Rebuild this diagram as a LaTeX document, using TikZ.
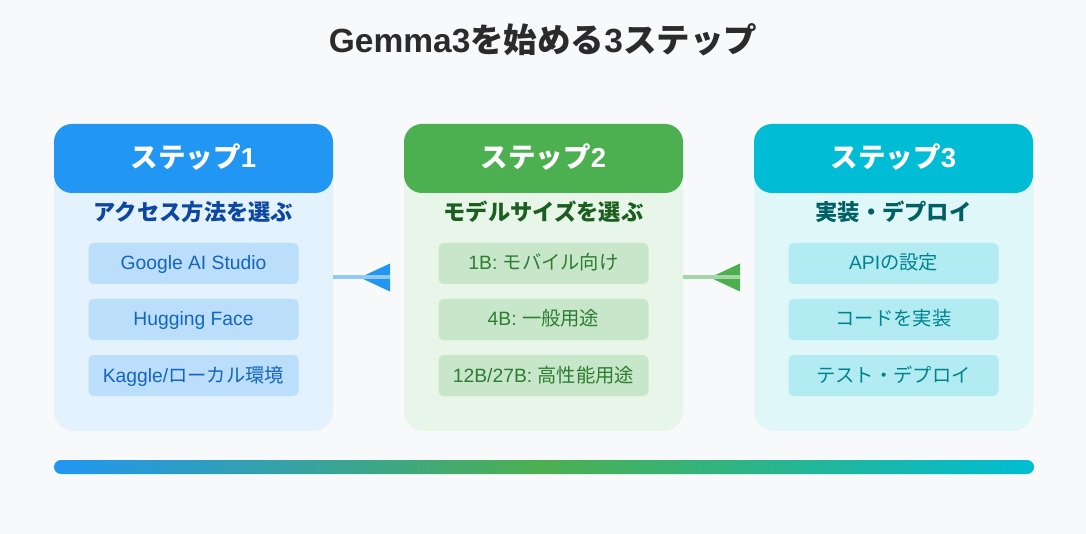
\documentclass[tikz,border=0pt]{standalone}
\usepackage{fontspec}
\setmainfont{Liberation Sans}
\newfontfamily\jpfont{Noto Sans CJK JP}
\newcommand{\J}[1]{{\jpfont #1}}
\definecolor{bgc}{HTML}{F8F9FA}
\definecolor{titlec}{HTML}{2B2B2B}
\definecolor{bAhead}{HTML}{2196F3}
\definecolor{bAbody}{HTML}{E3F2FD}
\definecolor{bAsub}{HTML}{0D47A1}
\definecolor{bAitem}{HTML}{BBDEFB}
\definecolor{bAtxt}{HTML}{1565C0}
\definecolor{bAline}{HTML}{90CAF9}
\definecolor{bBhead}{HTML}{4CAF50}
\definecolor{bBbody}{HTML}{E8F5E9}
\definecolor{bBsub}{HTML}{1B5E20}
\definecolor{bBitem}{HTML}{C8E6C9}
\definecolor{bBtxt}{HTML}{2E7D32}
\definecolor{bBline}{HTML}{A5D6A7}
\definecolor{bChead}{HTML}{00BCD4}
\definecolor{bCbody}{HTML}{E0F7FA}
\definecolor{bCsub}{HTML}{006064}
\definecolor{bCitem}{HTML}{B2EBF2}
\definecolor{bCtxt}{HTML}{00838F}
\begin{document}
\begin{tikzpicture}[x=1pt,y=-1pt,
  card/.style={draw=none, rounded corners=20pt, minimum width=279pt, minimum height=307pt, inner sep=0pt},
  headbox/.style={draw=none, rounded corners=18pt, minimum width=279pt, minimum height=69pt, inner sep=0pt,
    text=white, text height=22pt, text depth=3.6pt, font=\bfseries\fontsize{27.5}{31}\selectfont},
  subtitle/.style={inner sep=0pt, anchor=base, font=\bfseries\fontsize{22.3}{26}\selectfont},
  itembox/.style={draw=none, rounded corners=5pt, minimum width=210pt, minimum height=41pt, inner sep=0pt,
    text height=17pt, text depth=4pt, font=\fontsize{19.3}{23}\selectfont},
  arrowline/.style={line width=4pt},
]
\useasboundingbox (0,0) rectangle (1086,534);
\fill[bgc] (0,0) rectangle (1086,534);

\node[anchor=base, text=titlec, font=\bfseries\fontsize{33.5}{38}\selectfont] (title) at (543,53)
  {Gemma3\J{を始める}3\J{ステップ}};

% card 1
\node[card, fill=bAbody] (card1) at (193.5,277.5) {};
\node[headbox, fill=bAhead] (head1) at (193.5,158.5) {\J{ステップ}1};
\node[subtitle, text=bAsub] (sub1) at (193.5,220.5) {\J{アクセス方法を選ぶ}};
\node[itembox, fill=bAitem, text=bAtxt] (i11) at (193.5,263.5) {Google AI Studio};
\node[itembox, fill=bAitem, text=bAtxt] (i12) at (193.5,319.5) {Hugging Face};
\node[itembox, fill=bAitem, text=bAtxt] (i13) at (193.5,375.5) {Kaggle/\J{ローカル環境}};

% card 2
\node[card, fill=bBbody] (card2) at (543.5,277.5) {};
\node[headbox, fill=bBhead] (head2) at (543.5,158.5) {\J{ステップ}2};
\node[subtitle, text=bBsub] (sub2) at (543.5,220.5) {\J{モデルサイズを選ぶ}};
\node[itembox, fill=bBitem, text=bBtxt] (i21) at (543.5,263.5) {1B: \J{モバイル向け}};
\node[itembox, fill=bBitem, text=bBtxt] (i22) at (543.5,319.5) {4B: \J{一般用途}};
\node[itembox, fill=bBitem, text=bBtxt] (i23) at (543.5,375.5) {12B/27B: \J{高性能用途}};

% card 3
\node[card, fill=bCbody] (card3) at (893.5,277.5) {};
\node[headbox, fill=bChead] (head3) at (893.5,158.5) {\J{ステップ}3};
\node[subtitle, text=bCsub] (sub3) at (893.5,220.5) {\J{実装・デプロイ}};
\node[itembox, fill=bCitem, text=bCtxt] (i31) at (893.5,263.5) {API\J{の設定}};
\node[itembox, fill=bCitem, text=bCtxt] (i32) at (893.5,319.5) {\J{コードを実装}};
\node[itembox, fill=bCitem, text=bCtxt] (i33) at (893.5,375.5) {\J{テスト・デプロイ}};

% arrows (heads point left, as drawn in the reference)
\coordinate (a1end) at (390,277.5);
\coordinate (a2end) at (740,277.5);
\fill[bAhead] (360,277.5) -- (390,263.5) -- (390,291.5) -- cycle;
\draw[arrowline, bAline] (card1.east) -- (a1end);
\fill[bBhead] (710,277.5) -- (740,263.5) -- (740,291.5) -- cycle;
\draw[arrowline, bBline] (card2.east) -- (a2end);

% gradient bar
\shade[rounded corners=7pt, left color=bAhead, right color=bChead, middle color=bBhead]
  (54,460) rectangle (1034,474);
\end{tikzpicture}
\end{document}
